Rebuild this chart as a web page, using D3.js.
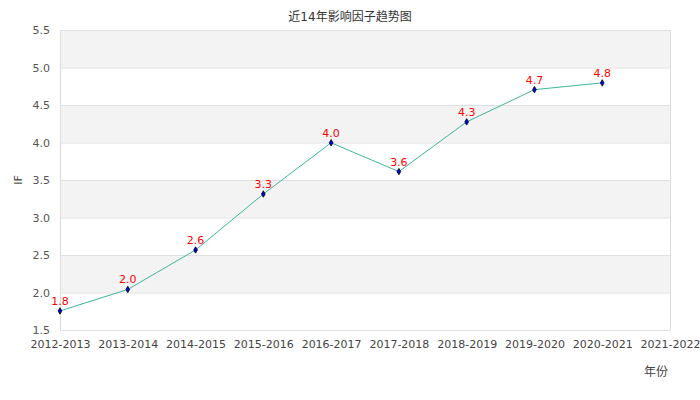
<!DOCTYPE html>
<html><head><meta charset="utf-8">
<script src="https://cdn.jsdelivr.net/npm/d3@7"></script>
<style>body{margin:0;background:#fff;}svg{display:block;}svg text{font-family:"DejaVu Sans","Noto Sans CJK SC",sans-serif;}</style>
</head><body><svg id="c" width="700" height="400"></svg>
<script>
const categories = ["2012-2013","2013-2014","2014-2015","2015-2016","2016-2017","2017-2018","2018-2019","2019-2020","2020-2021","2021-2022"];
const values = [1.754, 2.041, 2.567, 3.313, 3.996, 3.612, 4.275, 4.705, 4.795];
const labels = ["1.8","2.0","2.6","3.3","4.0","3.6","4.3","4.7","4.8"];
const yTicks = [1.5,2.0,2.5,3.0,3.5,4.0,4.5,5.0,5.5];
const title = "近14年影响因子趋势图";
const yName = "IF";
const xName = "年份";

const FONT = '"DejaVu Sans","Noto Sans CJK SC",sans-serif';
const svg = d3.select("#c");
const L=60,R=670,T=30,B=330;
const x = d3.scalePoint().domain(categories).range([L,R]);
const y = d3.scaleLinear().domain([1.5,5.5]).range([B,T]);

// bands
for(let i=0;i<yTicks.length-1;i++){
  if(i%2===1){
    svg.append("rect").attr("x",L).attr("width",R-L)
      .attr("y",y(yTicks[i+1])).attr("height",y(yTicks[i])-y(yTicks[i+1]))
      .attr("fill","#f3f3f3");
  }
}
// grid
svg.append("g").selectAll("line").data(yTicks).join("line")
  .attr("x1",L).attr("x2",R).attr("y1",d=>y(d)+0.5).attr("y2",d=>y(d)+0.5)
  .attr("stroke","#e0e0e0");
svg.append("line").attr("x1",L+0.5).attr("x2",L+0.5).attr("y1",T).attr("y2",B).attr("stroke","#dcdcdc");
svg.append("line").attr("x1",R+0.5).attr("x2",R+0.5).attr("y1",T).attr("y2",B).attr("stroke","#dcdcdc");

// y axis
const ya = svg.append("g").attr("transform",`translate(${L},0)`)
  .call(d3.axisLeft(y).tickValues(yTicks).tickFormat(d3.format(".1f")).tickSize(0).tickPadding(10))
  .attr("font-family",FONT).attr("font-size",11);
ya.select(".domain").remove();
ya.selectAll("text").attr("fill","#555");

// x axis
const xa = svg.append("g").attr("transform",`translate(0,${B})`)
  .call(d3.axisBottom(x).tickSize(0).tickPadding(10))
  .attr("font-family",FONT).attr("font-size",11);
xa.select(".domain").remove();
xa.selectAll("text").attr("fill","#444");

// line
const pts = values.map((v,i)=>[x(categories[i]),y(v)]);
svg.append("path").datum(pts).attr("d",d3.line()).attr("fill","none")
  .attr("stroke","#3fb59b").attr("stroke-width",1);
// markers
svg.append("g").selectAll("path").data(pts).join("path")
  .attr("transform",d=>`translate(${d[0]},${d[1]})`)
  .attr("d",d3.symbol(d3.symbolDiamond,12))
  .attr("fill","#0000ee").attr("stroke","#000").attr("stroke-width",0.8);
// labels
svg.append("g").selectAll("text").data(pts).join("text")
  .attr("x",d=>d[0]).attr("y",d=>d[1]-6).attr("text-anchor","middle")
  .attr("fill","#ff0000").style("font-size","11px").text((d,i)=>labels[i]);

svg.append("text").attr("x",350).attr("y",21).attr("text-anchor","middle")
  .attr("fill","#333").style("font-size","12px").text(title);
svg.append("text").attr("transform","translate(22,180) rotate(-90)").attr("text-anchor","middle")
  .attr("fill","#444").style("font-size","11px").text(yName);
svg.append("text").attr("x",656).attr("y",376).attr("text-anchor","middle")
  .attr("fill","#444").style("font-size","12px").text(xName);
</script></body></html>
